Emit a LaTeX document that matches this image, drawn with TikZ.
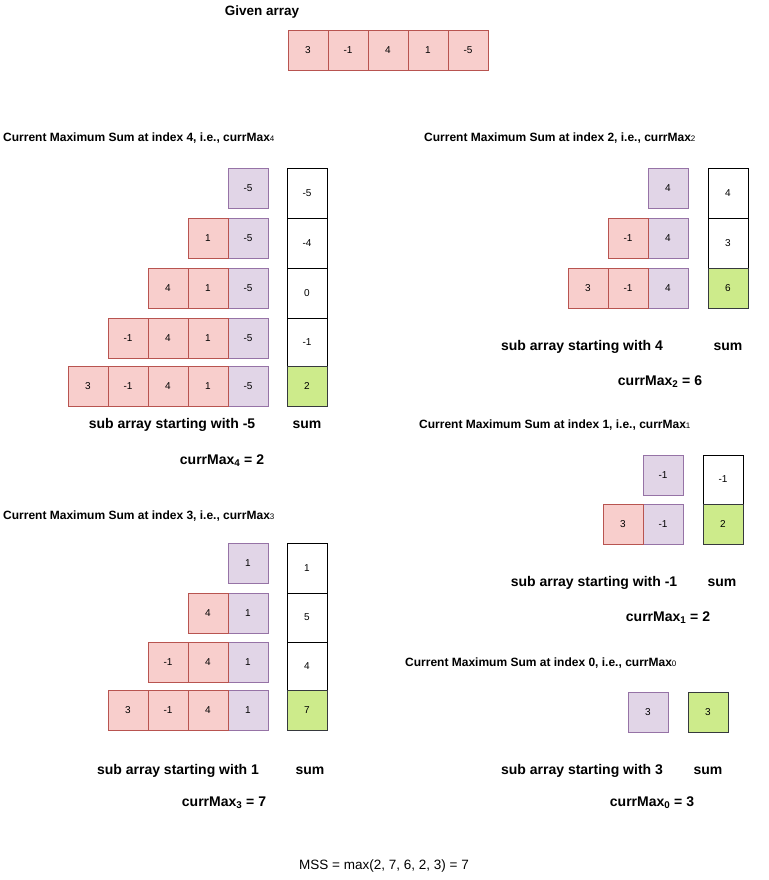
\documentclass[tikz,border=0pt]{standalone}
\usepackage{fontspec}
\setmainfont{Liberation Sans}
\usetikzlibrary{positioning}
\definecolor{redF}{HTML}{F8CECC}
\definecolor{redB}{HTML}{B85450}
\definecolor{purF}{HTML}{E1D5E7}
\definecolor{purB}{HTML}{9673A6}
\definecolor{grnF}{HTML}{CDEB8B}
\definecolor{grnB}{HTML}{36393D}

% rows of sub arrays: #1 end index, #2 x of last cell, #3 row y list, #4 name prefix
\newcommand{\cellrows}[4]{%
  \foreach \yy [count=\r from 0] in {#3} {
    \foreach \k in {0,...,\r} {
      \pgfmathtruncatemacro\j{#1-\k}
      \pgfmathtruncatemacro\val{{3,-1,4,1,-5}[\j]}
      \ifnum\k=0 \def\sty{lastcell}\else\def\sty{given}\fi
      \node[\sty] (#4-\r-\j) at ({#2-40*\k},\yy) {\val};
    }
  }}

\begin{document}
\begin{tikzpicture}[x=1pt, y=-1pt,
    given/.style={rectangle, draw=redB, fill=redF, minimum width=40, minimum height=40, inner sep=0, font=\fontsize{10}{12}\selectfont},
    lastcell/.style={given, draw=purB, fill=purF},
    sumcell/.style={rectangle, draw=black, fill=white, minimum width=40, inner sep=0, font=\fontsize{10}{12}\selectfont},
    best/.style={sumcell, draw=grnB, fill=grnF},
    head/.style={font=\bfseries\fontsize{12}{14}\selectfont, anchor=west, inner sep=0},
    lbl/.style={font=\bfseries\fontsize{14}{16}\selectfont, inner sep=0}
]
\useasboundingbox (0,0) rectangle (768,880);

% Given array
\node[lbl, font=\bfseries\fontsize{13.5}{15}\selectfont] (title) at (262,12) {Given array};
\foreach \v [count=\i from 0] in {3,-1,4,1,-5}
  \node[given] (a\i) at ({308+40*\i},50) {\v};

% index 4
\node[head] (h4) at (3,138) {Current Maximum Sum at index 4, i.e., currMax\textmd{\fontsize{8}{8}\selectfont 4}};
\cellrows{4}{248}{188,238,288,338,386}{b4}
\node[sumcell, minimum height=50] (s4a) at (307,193) {-5};
\node[sumcell, minimum height=50] (s4b) at (307,243) {-4};
\node[sumcell, minimum height=50] (s4c) at (307,293) {0};
\node[sumcell, minimum height=48] (s4d) at (307,342) {-1};
\node[best, minimum height=40] (s4e) at (307,386) {2};
\node[lbl] (l4) at (172,425) {sub array starting with -5};
\node[lbl] (t4) at (307,425) {sum};
\node[lbl] (m4) at (222,461) {currMax$_{\mathbf 4}$ = 2};

% index 3
\node[head] (h3) at (3,516) {Current Maximum Sum at index 3, i.e., currMax\textmd{\fontsize{8}{8}\selectfont 3}};
\cellrows{3}{248}{563,613,662,710}{b3}
\node[sumcell, minimum height=50] (s3a) at (307,568) {1};
\node[sumcell, minimum height=49] (s3b) at (307,617.5) {5};
\node[sumcell, minimum height=48] (s3c) at (307,666) {4};
\node[best, minimum height=40] (s3d) at (307,710) {7};
\node[lbl] (l3) at (178,771) {sub array starting with 1};
\node[lbl] (t3) at (310,771) {sum};
\node[lbl] (m3) at (224,803) {currMax$_{\mathbf 3}$ = 7};

% index 2
\node[head] (h2) at (424,138) {Current Maximum Sum at index 2, i.e., currMax\textmd{\fontsize{8}{8}\selectfont 2}};
\cellrows{2}{668}{188,238,288}{b2}
\node[sumcell, minimum height=50] (s2a) at (728,193) {4};
\node[sumcell, minimum height=50] (s2b) at (728,243) {3};
\node[best, minimum height=40] (s2c) at (728,288) {6};
\node[lbl] (l2) at (582,347) {sub array starting with 4};
\node[lbl] (t2) at (728,347) {sum};
\node[lbl] (m2) at (660,382) {currMax$_{\mathbf 2}$ = 6};

% index 1
\node[head] (h1) at (419,425) {Current Maximum Sum at index 1, i.e., currMax\textmd{\fontsize{8}{8}\selectfont 1}};
\cellrows{1}{663}{475,524}{b1}
\node[sumcell, minimum height=49] (s1a) at (723,479.5) {-1};
\node[best, minimum height=40] (s1b) at (723,524) {2};
\node[lbl] (l1) at (594,583) {sub array starting with -1};
\node[lbl] (t1) at (722,583) {sum};
\node[lbl] (m1) at (668,618) {currMax$_{\mathbf 1}$ = 2};

% index 0
\node[head] (h0) at (405,663) {Current Maximum Sum at index 0, i.e., currMax\textmd{\fontsize{8}{8}\selectfont 0}};
\cellrows{0}{648}{712}{b0}
\node[best, minimum height=40] (s0a) at (708,712) {3};
\node[lbl] (l0) at (582,771) {sub array starting with 3};
\node[lbl] (t0) at (708,771) {sum};
\node[lbl] (m0) at (652,803) {currMax$_{\mathbf 0}$ = 3};

% result
\node[lbl, font=\fontsize{13.5}{15}\selectfont] (mss) at (384,866) {MSS = max(2, 7, 6, 2, 3) = 7};

\end{tikzpicture}
\end{document}
